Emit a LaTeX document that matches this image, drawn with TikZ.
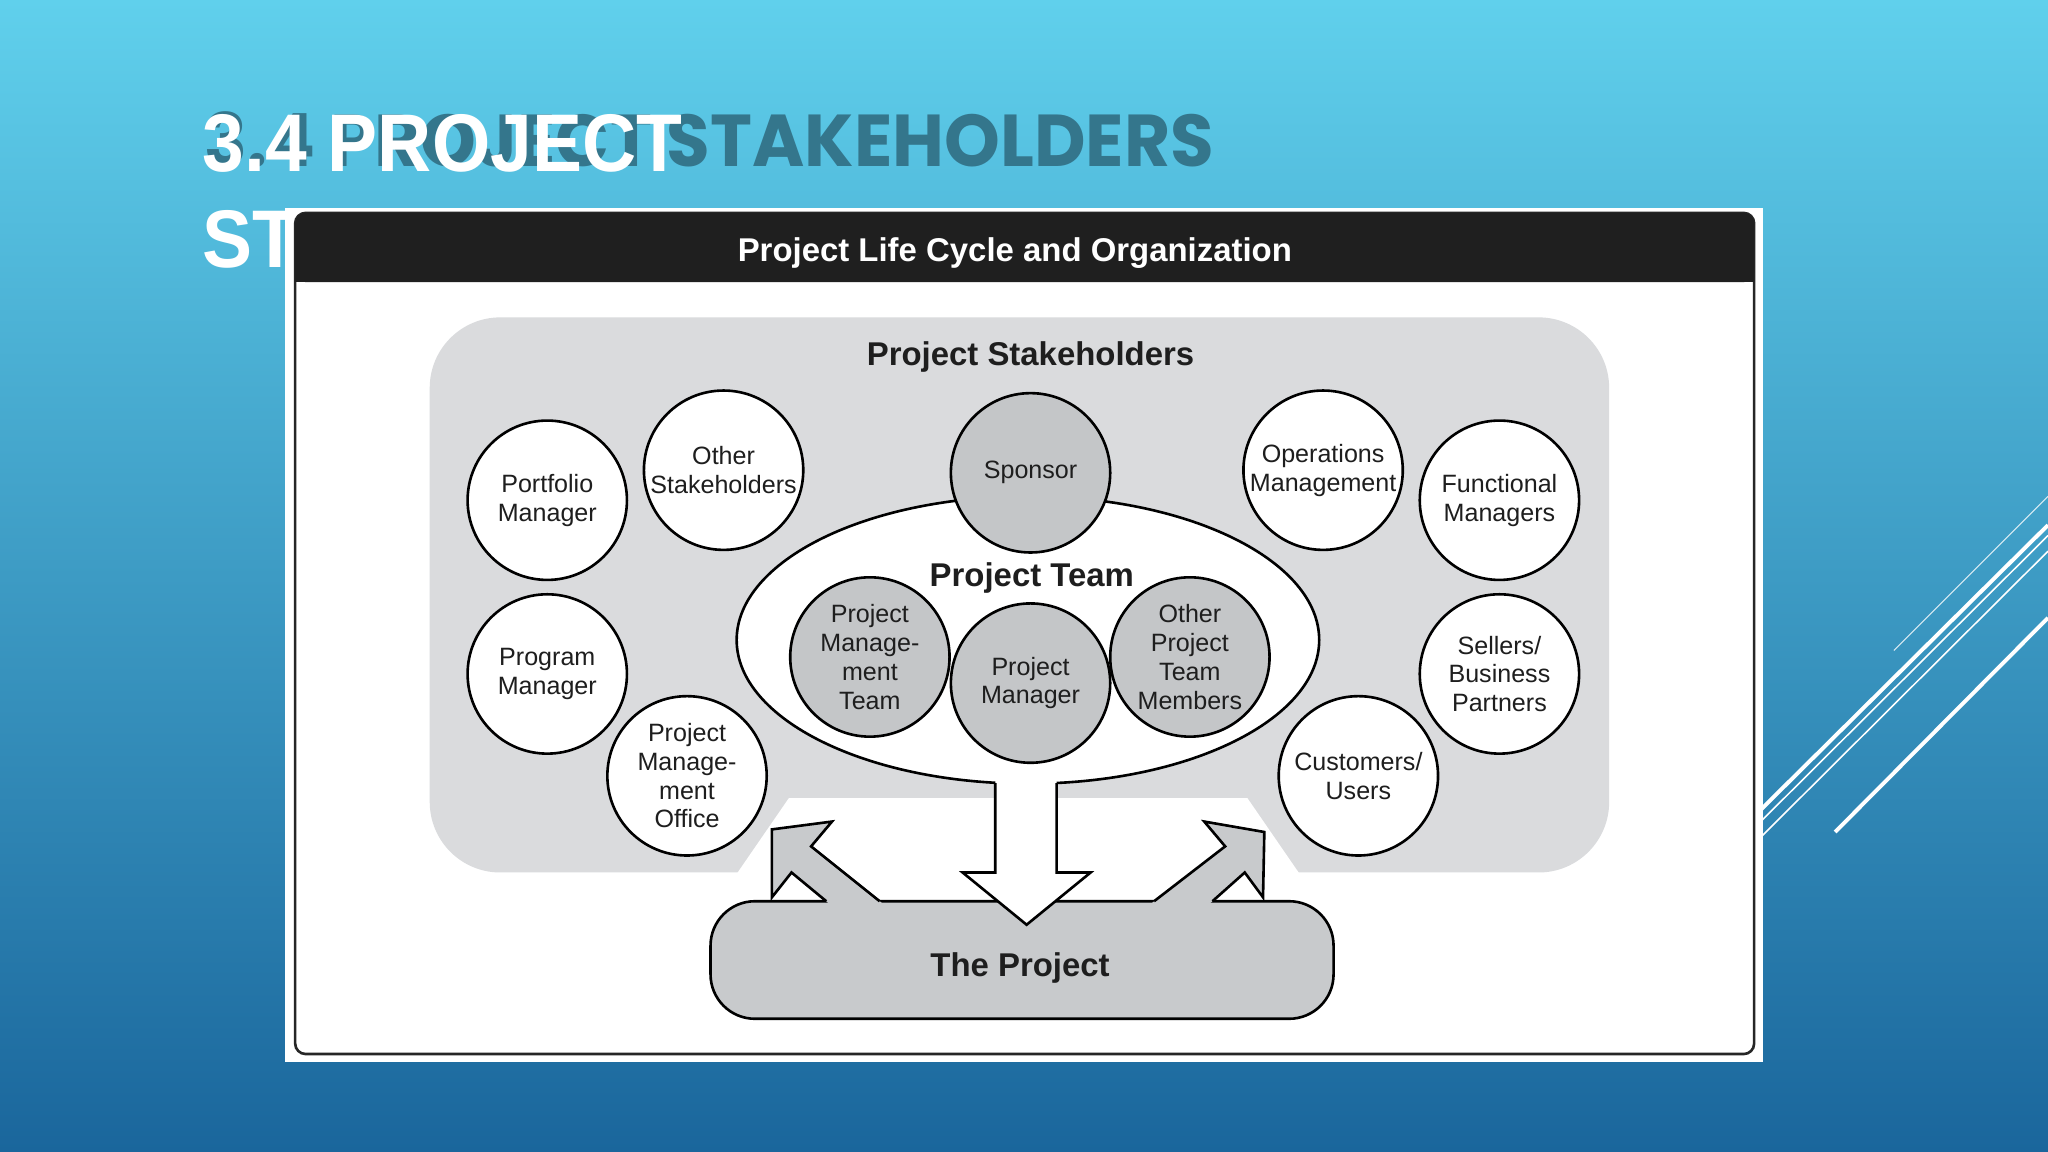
\documentclass[tikz,border=0pt]{standalone}
\usepackage{fontspec}
\usepackage{graphicx}
\setmainfont{Liberation Sans}
\newfontfamily\ghostfont{Poppins}
\usetikzlibrary{shapes.geometric}

\definecolor{skytop}{RGB}{96,208,236}
\definecolor{skybottom}{RGB}{26,102,156}
\definecolor{ghostteal}{RGB}{52,118,140}
\definecolor{regiongray}{RGB}{218,219,221}
\definecolor{rolegray}{RGB}{196,198,200}
\definecolor{projgray}{RGB}{200,202,204}
\definecolor{inkgray}{RGB}{30,30,30}

\newcommand\slidetitle[1]{\scalebox{0.917}[1]{\fontsize{31.3}{36}\selectfont\bfseries #1}}

\begin{document}
\begin{tikzpicture}[
 x = 0.5pt, y = -0.5pt,
 stake/.style = {
    circle,
    draw=black,
    line width=1pt,
    fill=white,
    minimum size=61pt,
    inner sep=0pt,
    align=center,
    text=inkgray,
    font=\fontsize{9.6}{11}\selectfont},
 role/.style = {stake, fill=rolegray},
 heading/.style = {
    inner sep=0pt,
    text=inkgray,
    font=\bfseries\fontsize{12.6}{15}\selectfont},
 deco/.style = {draw=white, line cap=butt}
 ]
\useasboundingbox (0,0) rectangle (1568,882);
\shade[top color=skytop, bottom color=skybottom] (0,0) rectangle (1568,882);

% slide lines at the right
\draw[deco, line width=0.4pt, draw opacity=0.8] (1450,498) -- (1568,380);
\draw[deco, line width=1.5pt] (1345,623) -- (1568,402);
\draw[deco, line width=0.6pt] (1345,632) -- (1568,410);
\draw[deco, line width=0.6pt] (1345,644) -- (1568,422);
\draw[deco, line width=1.5pt] (1405,637) -- (1568,473);

% slide title
\node (ghost) [anchor=base west, inner sep=0pt, text=ghostteal] at (156,127.6)
  {\resizebox{386.5pt}{21pt}{\ghostfont\bfseries 3.4 PROJECT STAKEHOLDERS}};
\node (title) [anchor=base west, inner sep=0pt, text=white] at (155,131.5) {\slidetitle{3.4 PROJECT}};
\node (titlecut) [anchor=base west, inner sep=0pt, text=white] at (155,205) {\slidetitle{ST}};

% picture card
\fill[white] (218,159) rectangle (1350,813);
\draw[line width=1pt, draw=black!85, fill=white, rounded corners=4pt] (226,163) rectangle (1343,807);
\fill[black!88, rounded corners=4pt] (226,163) rectangle (1343,216);
\fill[black!88] (226,200) rectangle (1343,216);
\node (header) [heading, text=white, anchor=base] at (777,200) {Project Life Cycle and Organization};

% stakeholders area
\fill[regiongray, rounded corners=27pt] (329,243) rectangle (1232,668);
\fill[white] (562,672) -- (604,611) -- (955,611) -- (997,672) -- cycle;
\node (stakeholders) [heading, anchor=base] at (789,280) {Project Stakeholders};

\node (portfolio)[stake] at (419,383) {Portfolio\\Manager};
\node (otherst)[stake] at (554,360) {Other\\Stakeholders};
\node (operations)[stake] at (1013,360) {Operations\\Management};
\node (functional)[stake] at (1148,383) {Functional\\Managers};
\node (program)[stake] at (419,516) {Program\\Manager};
\node (pmo)[stake] at (526,594) {Project\\Manage-\\ment\\Office};
\node (sellers)[stake] at (1148,516) {Sellers/\\Business\\Partners};
\node (customers)[stake] at (1040,594) {Customers/\\Users};

% project team
\node (team)[ellipse, draw=black, line width=1pt, fill=white,
  minimum width=223pt, minimum height=110pt, inner sep=0pt] at (787,490) {};
\node (teamlabel)[heading, anchor=base] at (790,449) {Project Team};
\node (sponsor)[role] at (789,362) {Sponsor};
\node (pmteam)[role] at (666,503) {Project\\Manage-\\ment\\Team};
\node (otherteam)[role] at (911,503) {Other\\Project\\Team\\Members};
\node (pm)[role] at (789,523) {Project\\Manager};

% the project and its arrows
\node (project)[rectangle, rounded corners=17pt, draw=black, line width=1pt, fill=projgray,
  minimum width=238.5pt, minimum height=45pt] at (782.5,735) {};
\node (projectlabel)[heading, anchor=base] at (781,748) {The Project};

\fill[projgray] (639.8,696) -- (606,668) -- (591,687) -- (591,635) -- (637,629) -- (621,648) -- (681,696) -- cycle;
\draw[line width=1pt, line join=miter] (632.6,690) -- (606,668) -- (591,687) -- (591,635) -- (637,629) -- (621,648) -- (673.5,690);
\fill[projgray] (876,696) -- (938,648) -- (922,629) -- (968,637) -- (967,687) -- (953,668) -- (921.5,696) -- cycle;
\draw[line width=1pt, line join=miter] (883.6,690) -- (938,648) -- (922,629) -- (968,637) -- (967,687) -- (953,668) -- (928.3,690);

\fill[white] (762,594) -- (762,668) -- (737,668) -- (786,708) -- (835,668) -- (809,668) -- (809,594) -- cycle;
\draw[line width=1pt, line join=miter] (762,599.5) -- (762,668) -- (737,668) -- (786,708) -- (835,668) -- (809,668) -- (809,599.5);

\end{tikzpicture}
\end{document}
